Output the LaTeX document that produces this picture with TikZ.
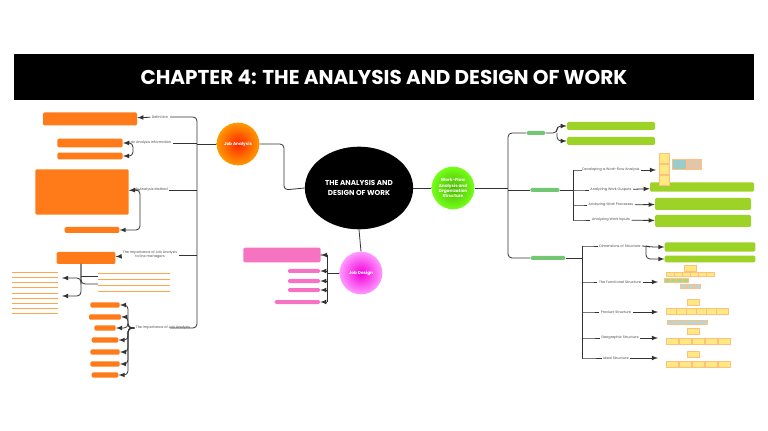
\documentclass[tikz,border=0pt]{standalone}
\usepackage{fontspec}
\setmainfont{Poppins}
\usetikzlibrary{positioning,shapes.geometric}
\begin{document}
\begin{tikzpicture}[x=0.75pt,y=-0.75pt,>=latex]
  \tikzstyle{lines} = [black!80,line width=0.6pt,rounded corners=3pt]
  \tikzstyle{branch} = [black!80,line width=0.6pt,rounded corners=3pt,->]
  \tikzstyle{label} = [font=\fontsize{2.6}{3}\selectfont, text=black!70, inner sep=1pt, align=center]
  \tikzstyle{orange} = [fill=orange!85!red!90, rounded corners=1pt, inner sep=0]
  \tikzstyle{pink} = [fill=magenta!55, rounded corners=1pt, inner sep=0]
  \tikzstyle{green} = [fill=green!55!black!45!yellow!85, rounded corners=1pt, inner sep=0]
  \tikzstyle{tag} = [fill=green!60!black!55, rounded corners=1.5pt, minimum height=3pt, inner sep=0]
  \tikzstyle{chart} = [fill=orange!35!yellow!50, draw=orange!50, line width=0.2pt, minimum width=9pt, minimum height=5pt, inner sep=0]
  \tikzstyle{topic} = [circle, minimum size=32pt, inner sep=0, text=white,
                       font=\fontsize{3.2}{3.8}\selectfont\bfseries, align=center]

\useasboundingbox (0,0) rectangle (768,431);
\fill[white] (0,0) rectangle (768,431);

%%%%%%%%%%%%%%%%%%%%%%%%%%%%%%%%%%%%%%%%%%%%%%%%%%%%%%%%%%%%%%%%%%%%%%%%%%%%%%%

\node[fill=black, minimum width=555pt, minimum height=34pt, text=white,
      font=\fontsize{15}{18}\selectfont\bfseries] (title) at (384,77) {CHAPTER 4: THE ANALYSIS AND DESIGN OF WORK};

\node[ellipse, fill=black, minimum width=76pt, minimum height=62pt, text=white, align=center,
      font=\fontsize{5.4}{7}\selectfont\bfseries] (work) at (359,188) {THE ANALYSIS AND\\DESIGN OF WORK};
\node[topic, inner color=red!70!orange, outer color=orange!80!yellow] (analysis) at (238,144) {Job Analysis};
\node[topic, inner color=magenta!80!purple, outer color=magenta!40] (design) at (361,273) {Job Design};
\node[topic, inner color=green!60!black!70!yellow, outer color=green!60!yellow!90] (flow) at (453,188) {Work-Flow\\Analysis and\\Organization\\Structure};

\draw[lines] (analysis.east) -- (284,144) -- (284,190) -- (work.west);
\draw[lines] (work.south) -- (design.north);
\draw[lines] (work.east) -- (flow.west);

%%%%%%%%%%%%%%%%%%%%%%%%%%%%%%%%%%%%%%%%%%%%%%%%%%%%%%%%%%%%%%%%%%%%%%%%%%%%%%%
% job analysis

\coordinate (ja_top) at (197,117);
\coordinate (ja_bot) at (197,328);
\draw[lines] (analysis.west) -- (197,144);
\draw[lines] (170,117) -- (197,117) -- (197,328) -- (170,328);

\node[label] (ja_def) at (160,117) {Definition};
\node[label] (ja_info) at (150,143) {Job Analysis Information};
\node[label] (ja_meth) at (150,190) {Job Analysis Method};
\node[label] (ja_imp) at (150,255) {The Importance of Job Analysis\\to line managers};
\node[label] (ja_why) at (163,328) {The Importance of Job Analysis};
\draw[lines] (ja_info) -- (197,143);
\draw[lines] (ja_meth) -- (197,190);
\draw[lines] (ja_imp) -- (197,255);

\node[orange, minimum width=94pt*0.75, minimum height=13pt*0.75] (def_box) at (90,119) {};
\node[orange, minimum width=49pt, minimum height=6.5pt] (info_a) at (90,143) {};
\node[orange, minimum width=49pt, minimum height=5pt] (info_b) at (90,156) {};
\node[orange, minimum width=70pt, minimum height=34pt] (meth_a) at (82,192) {};
\node[orange, minimum width=41pt, minimum height=4.5pt] (meth_b) at (92,230) {};
\node[orange, minimum width=44pt, minimum height=9pt] (imp_box) at (86,258) {};

\draw[branch] (ja_def) -- (def_box);
\draw[branch] (ja_info) -- (info_a);
\draw[branch] (130,143) -- (133,143) -- (133,156) -- (info_b);
\draw[branch] (ja_meth) -- (140,190) -- (140,230) -- (meth_b);
\draw[branch] (140,190) -- (meth_a);
\draw[branch] (ja_imp) -- (imp_box);

\foreach \y in {273,279,285,291} \fill[orange!70] (98,\y) rectangle (170,\y+1.3);
\foreach \y in {272,277,282,287} \fill[orange!70] (12,\y) rectangle (58,\y+1.3);
\foreach \y in {293,298,303,308,313} \fill[orange!70] (12,\y) rectangle (58,\y+1.3);
\draw[lines] (81,264) -- (81,284) -- (98,284);
\draw[lines] (81,276) -- (98,276);
\draw[branch] (81,264) -- (81,296) -- (62,296);
\draw[branch] (81,284) -- (81,278) -- (62,278);

\foreach \y/\w [count=\i] in {305/22,317/24,328/16,340/20,352/22,364/22,375/20} {
  \node[orange, minimum width=\w pt, minimum height=4pt] (why\i) at (105,\y) {};
  \draw[branch] (ja_why.west) -- (128,328) -- (128,\y) -- (why\i.east);
}

%%%%%%%%%%%%%%%%%%%%%%%%%%%%%%%%%%%%%%%%%%%%%%%%%%%%%%%%%%%%%%%%%%%%%%%%%%%%%%%
% job design

\node[label] (jd_def) at (318,255) {Definition};
\draw[lines] (design.west) -- (327,273);
\draw[lines] (327,255) -- (327,302);
\node[pink, minimum width=58pt, minimum height=11pt] (jd_box) at (282,255) {};
\draw[branch] (jd_def) -- (jd_box);
\foreach \y/\w [count=\i] in {271/24,281/24,290/24,302/34} {
  \node[pink, minimum width=\w pt, minimum height=3pt] (jd\i) at (320-\w/1.5,\y) {};
  \draw[branch] (327,\y) -- (jd\i.east);
}

%%%%%%%%%%%%%%%%%%%%%%%%%%%%%%%%%%%%%%%%%%%%%%%%%%%%%%%%%%%%%%%%%%%%%%%%%%%%%%%
% work flow

\draw[lines] (flow.east) -- (508,188);
\node[tag, minimum width=14pt] (wf_def) at (536,133) {};
\node[tag, minimum width=22pt] (wf_ana) at (545,190) {};
\node[tag, minimum width=26pt] (wf_org) at (548,258) {};
\draw[lines] (wf_def.west) -- (508,133) -- (508,258) -- (wf_org.west);
\draw[lines] (508,190) -- (wf_ana.west);

\node[green, minimum width=66pt, minimum height=6pt] (wf_a) at (611,126) {};
\node[green, minimum width=66pt, minimum height=6pt] (wf_b) at (611,141) {};
\draw[branch] (wf_def.east) -- (557,133) -- (557,126) -- (wf_a.west);
\draw[branch] (557,133) -- (557,141) -- (wf_b.west);

\node[label] (an1) at (611,170) {Developing a Work-Flow Analysis};
\node[label] (an2) at (611,190) {Analyzing Work Outputs};
\node[label] (an3) at (611,205) {Analyzing Work Processes};
\node[label] (an4) at (611,220) {Analyzing Work Inputs};
\draw[lines] (wf_ana.east) -- (573,190);
\foreach \i/\y in {1/170,2/190,3/205,4/220} \draw[lines] (an\i.west) -- (578,\y) -- (573,\y);
\draw[lines] (573,170) -- (573,220);

\node[green, minimum width=78pt, minimum height=7pt] (an_out) at (702,187) {};
\node[green, minimum width=72pt, minimum height=9pt] (an_pro) at (703,204) {};
\node[green, minimum width=72pt, minimum height=9pt] (an_in) at (703,221) {};
\draw[branch] (an2) -- (an_out);
\draw[branch] (an3) -- (an_pro);
\draw[branch] (an4) -- (an_in);

\node[chart, minimum width=8pt, minimum height=8pt] (fl1) at (664,158) {};
\node[chart, minimum width=8pt, minimum height=8pt] (fl2) at (664,169) {};
\node[chart, minimum width=8pt, minimum height=8pt] (fl3) at (664,180) {};
\node[chart, fill=teal!40, minimum width=10pt, minimum height=8pt] (fl4) at (679,164) {};
\node[chart, fill=brown!45, minimum width=10pt, minimum height=8pt] (fl5) at (694,164) {};
\draw[branch] (an1) -- (656,170);

% organization structure
\node[label] (or1) at (620,246) {Dimensions of Structure};
\node[label] (or2) at (620,282) {The Functional Structure};
\node[label] (or3) at (616,312) {Product Structure};
\node[label] (or4) at (620,338) {Geographic Structure};
\node[label] (or5) at (616,358) {Ideal Structure};
\draw[lines] (wf_org.east) -- (582,258);
\foreach \i/\y in {1/246,2/282,3/312,4/338,5/358} \draw[lines] (or\i.west) -- (587,\y) -- (582,\y);
\draw[lines] (582,246) -- (582,358);

\node[green, minimum width=68pt, minimum height=7pt] (or_a) at (710,247) {};
\node[green, minimum width=68pt, minimum height=5pt] (or_b) at (710,259) {};
\draw[branch] (or1) -- (646,246) -- (650,247) -- (or_a.west);
\draw[branch] (646,246) -- (646,259) -- (or_b.west);

\foreach \i/\y in {2/282,3/312,4/338,5/358} \draw[branch] (or\i.east) -- (658,\y);
\node[chart] at (690,268) {};
\foreach \x in {670,678,686,694,702,710} \node[chart, minimum width=6pt, minimum height=3pt] at (\x,274) {};
\foreach \x in {667,673,679,685} \node[chart, fill=green!40!olive!50, minimum width=4pt, minimum height=3pt] at (\x,280) {};
\foreach \x in {683,690,697} \node[chart, fill=teal!30, minimum width=5pt, minimum height=3pt] at (\x,286) {};
\node[chart] at (693,302) {};
\foreach \x in {672,682,692,702,712,722} \node[chart] at (\x,311) {};
\foreach \x in {672,682,692,702} \node[chart, fill=teal!30, minimum width=8pt, minimum height=3pt] at (\x,322) {};
\node[chart] at (693,331) {};
\foreach \x in {672,685,698,711,724} \node[chart] at (\x,341) {};
\node[chart] at (693,354) {};
\foreach \x in {672,685,698,711,724} \node[chart] at (\x,364) {};
\end{tikzpicture}
\end{document}
